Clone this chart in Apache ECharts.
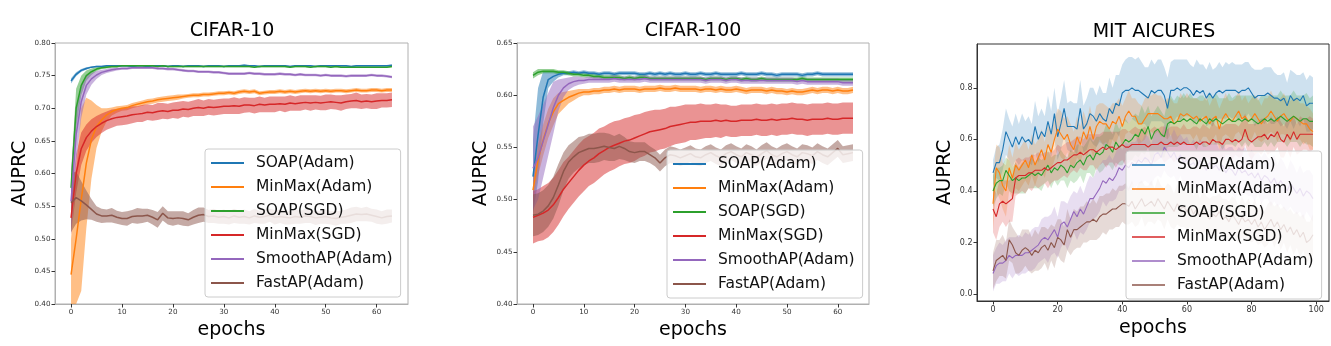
<!DOCTYPE html>
<html>
<head>
<meta charset="utf-8">
<script src="https://cdn.jsdelivr.net/npm/echarts@6/dist/echarts.min.js"></script>
<style>
  html, body { margin: 0; padding: 0; background: #fff; }
  #main { width: 1331px; height: 346px; }
</style>
</head>
<body>
<div id="main"></div>
<script>
// legend names / colours (matplotlib tab10)
const names = ['SOAP(Adam)', 'MinMax(Adam)', 'SOAP(SGD)', 'MinMax(SGD)', 'SmoothAP(Adam)', 'FastAP(Adam)'];
const colors = ['#1f77b4', '#ff7f0e', '#2ca02c', '#d62728', '#9467bd', '#8c564b'];
const titles = ['CIFAR-10', 'CIFAR-100', 'MIT AICURES'];
const c10Ticks = [0, 10, 20, 30, 40, 50, 60];
const mitXTicks = [0, 20, 40, 60, 80, 100];
const mitYTicks = [0, 0.2, 0.4, 0.6, 0.8];

// ---------- CIFAR-10 (mean, std) ----------
const c10_soapAdam = [0.742,0.752,0.758,0.761,0.763,0.764,0.764,0.765,0.765,0.765,
  0.765,0.765,0.764,0.765,0.765,0.764,0.765,0.765,0.765,0.764,
  0.765,0.765,0.764,0.765,0.765,0.765,0.764,0.765,0.765,0.765,
  0.764,0.765,0.765,0.765,0.766,0.765,0.765,0.764,0.765,0.765,
  0.765,0.765,0.765,0.764,0.765,0.765,0.765,0.765,0.764,0.765,
  0.765,0.765,0.765,0.765,0.765,0.764,0.765,0.765,0.765,0.765,
  0.765,0.765,0.765,0.766];
const c10_soapAdam_sd = [0.004,0.003,0.002,0.002,0.001,0.001,0.001,0.001,0.001,0.001,
  0.001,0.001,0.001,0.001,0.001,0.001,0.001,0.001,0.001,0.001,
  0.001,0.001,0.001,0.001,0.001,0.001,0.001,0.001,0.001,0.001,
  0.001,0.001,0.001,0.001,0.001,0.001,0.001,0.001,0.001,0.001,
  0.001,0.001,0.001,0.001,0.001,0.001,0.001,0.001,0.001,0.001,
  0.001,0.001,0.001,0.001,0.001,0.001,0.001,0.001,0.001,0.001,
  0.001,0.001,0.001,0.001];
const c10_minmaxAdam = [0.445,0.500,0.560,0.616,0.652,0.672,0.682,0.690,0.695,0.698,
  0.700,0.701,0.704,0.706,0.708,0.710,0.711,0.713,0.714,0.715,
  0.716,0.717,0.718,0.719,0.720,0.720,0.721,0.721,0.722,0.723,
  0.723,0.724,0.723,0.725,0.726,0.725,0.726,0.723,0.724,0.725,
  0.725,0.726,0.725,0.726,0.725,0.726,0.727,0.726,0.727,0.726,
  0.727,0.726,0.727,0.727,0.726,0.727,0.728,0.727,0.727,0.728,
  0.728,0.727,0.728,0.728];
const c10_minmaxAdam_sd = [0.055,0.100,0.140,0.100,0.060,0.033,0.018,0.010,0.006,0.005,
  0.004,0.004,0.004,0.004,0.004,0.004,0.004,0.004,0.004,0.004,
  0.004,0.004,0.003,0.003,0.003,0.003,0.003,0.003,0.003,0.003,
  0.003,0.003,0.003,0.003,0.003,0.003,0.003,0.003,0.003,0.003,
  0.003,0.003,0.003,0.003,0.003,0.003,0.003,0.003,0.003,0.003,
  0.003,0.003,0.003,0.003,0.003,0.003,0.003,0.003,0.003,0.003,
  0.003,0.003,0.003,0.003];
const c10_soapSgd = [0.578,0.700,0.735,0.750,0.756,0.760,0.762,0.763,0.764,0.764,
  0.765,0.765,0.765,0.765,0.765,0.765,0.765,0.764,0.765,0.764,
  0.764,0.764,0.764,0.764,0.764,0.764,0.764,0.764,0.764,0.764,
  0.764,0.764,0.764,0.764,0.764,0.764,0.763,0.764,0.764,0.764,
  0.764,0.764,0.764,0.763,0.764,0.764,0.764,0.763,0.764,0.764,
  0.764,0.763,0.764,0.763,0.763,0.763,0.763,0.763,0.763,0.763,
  0.763,0.763,0.763,0.764];
const c10_soapSgd_sd = [0.020,0.030,0.015,0.008,0.005,0.003,0.002,0.002,0.002,0.002,
  0.001,0.001,0.001,0.001,0.001,0.001,0.001,0.001,0.001,0.001,
  0.001,0.001,0.001,0.001,0.001,0.001,0.001,0.001,0.001,0.001,
  0.001,0.001,0.001,0.001,0.001,0.001,0.001,0.001,0.001,0.001,
  0.001,0.001,0.001,0.001,0.001,0.001,0.001,0.001,0.001,0.001,
  0.001,0.001,0.001,0.001,0.001,0.001,0.001,0.001,0.001,0.001,
  0.001,0.001,0.001,0.001];
const c10_minmaxSgd = [0.532,0.600,0.638,0.655,0.665,0.672,0.677,0.681,0.684,0.686,
  0.687,0.688,0.690,0.691,0.692,0.694,0.693,0.695,0.696,0.695,
  0.697,0.697,0.699,0.698,0.700,0.701,0.700,0.702,0.701,0.702,
  0.703,0.703,0.704,0.703,0.705,0.705,0.704,0.706,0.705,0.706,
  0.706,0.707,0.706,0.708,0.707,0.708,0.709,0.708,0.709,0.708,
  0.709,0.710,0.709,0.708,0.710,0.711,0.712,0.710,0.711,0.710,
  0.711,0.712,0.712,0.713];
const c10_minmaxSgd_sd = [0.025,0.030,0.025,0.020,0.018,0.016,0.015,0.014,0.014,0.013,
  0.013,0.013,0.013,0.012,0.013,0.012,0.012,0.013,0.012,0.012,
  0.012,0.013,0.012,0.012,0.012,0.013,0.012,0.012,0.012,0.012,
  0.012,0.012,0.013,0.012,0.012,0.011,0.012,0.012,0.011,0.012,
  0.012,0.011,0.012,0.012,0.011,0.012,0.011,0.012,0.011,0.011,
  0.012,0.011,0.011,0.012,0.011,0.011,0.012,0.011,0.011,0.011,
  0.012,0.011,0.011,0.011];
const c10_smoothAp = [0.557,0.660,0.710,0.735,0.745,0.751,0.755,0.757,0.759,0.760,
  0.761,0.761,0.762,0.762,0.762,0.762,0.762,0.761,0.761,0.760,
  0.760,0.759,0.758,0.757,0.757,0.756,0.756,0.756,0.755,0.755,
  0.754,0.753,0.753,0.753,0.753,0.754,0.753,0.753,0.752,0.752,
  0.752,0.753,0.752,0.752,0.751,0.752,0.751,0.751,0.751,0.750,
  0.751,0.750,0.750,0.750,0.749,0.750,0.750,0.750,0.750,0.751,
  0.750,0.750,0.749,0.748];
const c10_smoothAp_sd = [0.050,0.040,0.025,0.014,0.009,0.006,0.004,0.003,0.003,0.002,
  0.002,0.002,0.002,0.002,0.002,0.002,0.002,0.002,0.002,0.002,
  0.002,0.002,0.002,0.002,0.002,0.002,0.002,0.002,0.002,0.002,
  0.002,0.002,0.002,0.002,0.002,0.002,0.002,0.002,0.002,0.002,
  0.002,0.002,0.002,0.002,0.002,0.002,0.002,0.002,0.002,0.002,
  0.002,0.002,0.002,0.002,0.002,0.002,0.002,0.002,0.002,0.002,
  0.002,0.002,0.002,0.002];
const c10_fastAp = [0.555,0.563,0.558,0.552,0.545,0.538,0.535,0.535,0.536,0.533,
  0.531,0.531,0.534,0.535,0.535,0.536,0.533,0.529,0.539,0.532,
  0.531,0.532,0.531,0.529,0.533,0.536,0.537,0.534,0.535,0.533,
  0.534,0.532,0.535,0.533,0.534,0.532,0.535,0.533,0.534,0.536,
  0.533,0.534,0.533,0.532,0.534,0.533,0.535,0.534,0.532,0.533,
  0.534,0.532,0.531,0.533,0.534,0.536,0.538,0.537,0.538,0.536,
  0.534,0.532,0.534,0.535];
const c10_fastAp_sd = [0.045,0.040,0.030,0.022,0.016,0.012,0.011,0.010,0.011,0.010,
  0.010,0.011,0.010,0.012,0.011,0.010,0.011,0.012,0.011,0.010,
  0.011,0.010,0.011,0.010,0.011,0.012,0.011,0.010,0.011,0.010,
  0.011,0.010,0.011,0.010,0.011,0.010,0.011,0.010,0.011,0.010,
  0.011,0.010,0.011,0.010,0.011,0.010,0.011,0.010,0.011,0.010,
  0.011,0.010,0.011,0.010,0.011,0.012,0.011,0.010,0.011,0.010,
  0.011,0.010,0.011,0.010];

// ---------- CIFAR-100 ----------
const c100_soapAdam = [0.522,0.562,0.598,0.615,0.618,0.620,0.621,0.621,0.622,0.621,
  0.622,0.621,0.621,0.620,0.621,0.621,0.620,0.621,0.621,0.621,
  0.621,0.620,0.620,0.621,0.620,0.621,0.620,0.621,0.620,0.620,
  0.621,0.620,0.620,0.621,0.620,0.620,0.621,0.620,0.620,0.620,
  0.620,0.621,0.620,0.620,0.620,0.621,0.620,0.620,0.619,0.620,
  0.620,0.620,0.620,0.619,0.620,0.620,0.621,0.620,0.620,0.620,
  0.620,0.620,0.620,0.620];
const c100_soapAdam_sd = [0.035,0.045,0.025,0.008,0.005,0.003,0.002,0.002,0.002,0.002,
  0.002,0.002,0.002,0.002,0.002,0.002,0.002,0.002,0.002,0.002,
  0.002,0.002,0.002,0.002,0.002,0.002,0.002,0.002,0.002,0.002,
  0.002,0.002,0.002,0.002,0.002,0.002,0.002,0.002,0.002,0.002,
  0.002,0.002,0.002,0.002,0.002,0.002,0.002,0.002,0.002,0.002,
  0.002,0.002,0.002,0.002,0.002,0.002,0.002,0.002,0.002,0.002,
  0.002,0.002,0.002,0.002];
const c100_minmaxAdam = [0.509,0.538,0.557,0.573,0.584,0.592,0.595,0.598,0.600,0.602,
  0.603,0.603,0.604,0.604,0.605,0.605,0.606,0.605,0.606,0.606,
  0.606,0.605,0.606,0.606,0.606,0.607,0.606,0.606,0.607,0.606,
  0.606,0.606,0.606,0.605,0.606,0.606,0.605,0.606,0.605,0.605,
  0.606,0.605,0.604,0.605,0.605,0.605,0.604,0.605,0.604,0.604,
  0.603,0.604,0.603,0.603,0.604,0.605,0.604,0.605,0.605,0.604,
  0.605,0.604,0.604,0.605];
const c100_minmaxAdam_sd = [0.012,0.015,0.015,0.014,0.013,0.010,0.008,0.006,0.005,0.004,
  0.003,0.003,0.003,0.003,0.003,0.003,0.003,0.003,0.003,0.003,
  0.003,0.003,0.003,0.003,0.003,0.003,0.003,0.003,0.003,0.003,
  0.003,0.003,0.003,0.003,0.003,0.003,0.003,0.003,0.003,0.003,
  0.003,0.003,0.003,0.003,0.003,0.003,0.003,0.003,0.003,0.003,
  0.003,0.003,0.003,0.003,0.003,0.003,0.003,0.003,0.003,0.003,
  0.003,0.003,0.003,0.003];
const c100_soapSgd = [0.619,0.622,0.623,0.623,0.623,0.622,0.622,0.621,0.620,0.620,
  0.619,0.619,0.618,0.618,0.617,0.617,0.617,0.617,0.616,0.617,
  0.616,0.617,0.617,0.616,0.616,0.616,0.616,0.616,0.616,0.616,
  0.616,0.616,0.616,0.616,0.615,0.616,0.616,0.616,0.615,0.616,
  0.616,0.615,0.616,0.615,0.615,0.616,0.615,0.615,0.615,0.615,
  0.615,0.615,0.615,0.616,0.615,0.615,0.615,0.615,0.615,0.615,
  0.615,0.615,0.615,0.615];
const c100_soapSgd_sd = [0.003,0.003,0.002,0.002,0.002,0.002,0.002,0.002,0.002,0.002,
  0.002,0.002,0.002,0.002,0.002,0.002,0.002,0.002,0.002,0.002,
  0.002,0.002,0.002,0.002,0.002,0.002,0.002,0.002,0.002,0.002,
  0.002,0.002,0.002,0.002,0.002,0.002,0.002,0.002,0.002,0.002,
  0.002,0.002,0.002,0.002,0.002,0.002,0.002,0.002,0.002,0.002,
  0.002,0.002,0.002,0.002,0.002,0.002,0.002,0.002,0.002,0.002,
  0.002,0.002,0.002,0.002];
const c100_minmaxSgd = [0.483,0.485,0.487,0.490,0.495,0.502,0.510,0.516,0.522,0.528,
  0.533,0.537,0.540,0.544,0.547,0.550,0.552,0.554,0.556,0.557,
  0.559,0.561,0.563,0.565,0.566,0.567,0.568,0.570,0.571,0.572,
  0.573,0.574,0.574,0.575,0.575,0.575,0.576,0.575,0.576,0.575,
  0.575,0.576,0.576,0.576,0.577,0.576,0.576,0.577,0.576,0.577,
  0.577,0.578,0.577,0.577,0.576,0.577,0.577,0.577,0.578,0.577,
  0.577,0.578,0.578,0.578];
const c100_minmaxSgd_sd = [0.025,0.025,0.026,0.026,0.026,0.026,0.026,0.025,0.025,0.025,
  0.025,0.024,0.024,0.024,0.023,0.023,0.023,0.022,0.022,0.022,
  0.022,0.021,0.021,0.020,0.020,0.019,0.019,0.019,0.018,0.018,
  0.018,0.017,0.017,0.017,0.016,0.016,0.016,0.016,0.015,0.015,
  0.015,0.015,0.015,0.015,0.015,0.015,0.015,0.015,0.015,0.015,
  0.015,0.015,0.015,0.015,0.015,0.015,0.015,0.015,0.015,0.015,
  0.015,0.015,0.015,0.015];
const c100_smoothAp = [0.530,0.540,0.556,0.572,0.588,0.600,0.607,0.611,0.613,0.614,
  0.614,0.615,0.615,0.615,0.615,0.615,0.616,0.615,0.615,0.615,
  0.615,0.615,0.616,0.615,0.615,0.615,0.615,0.615,0.615,0.615,
  0.615,0.615,0.615,0.615,0.614,0.615,0.615,0.615,0.614,0.615,
  0.615,0.614,0.614,0.614,0.614,0.614,0.614,0.614,0.614,0.614,
  0.614,0.614,0.613,0.614,0.613,0.613,0.613,0.613,0.613,0.613,
  0.613,0.612,0.612,0.612];
const c100_smoothAp_sd = [0.040,0.040,0.035,0.030,0.025,0.015,0.009,0.006,0.005,0.004,
  0.003,0.003,0.003,0.003,0.003,0.003,0.003,0.003,0.003,0.003,
  0.003,0.003,0.003,0.003,0.003,0.003,0.003,0.003,0.003,0.003,
  0.003,0.003,0.003,0.003,0.003,0.003,0.003,0.003,0.003,0.003,
  0.003,0.003,0.003,0.003,0.003,0.003,0.003,0.003,0.003,0.003,
  0.003,0.003,0.003,0.003,0.003,0.003,0.003,0.003,0.003,0.003,
  0.003,0.003,0.003,0.003];
const c100_fastAp = [0.485,0.486,0.489,0.494,0.502,0.514,0.527,0.536,0.541,0.545,
  0.547,0.549,0.549,0.550,0.551,0.550,0.549,0.551,0.549,0.546,
  0.545,0.546,0.546,0.543,0.540,0.535,0.540,0.543,0.542,0.540,
  0.542,0.544,0.541,0.540,0.543,0.545,0.542,0.540,0.544,0.546,
  0.543,0.541,0.545,0.543,0.540,0.544,0.547,0.543,0.541,0.544,
  0.546,0.543,0.541,0.545,0.544,0.542,0.546,0.543,0.541,0.545,
  0.549,0.543,0.544,0.545];
const c100_fastAp_sd = [0.020,0.020,0.020,0.020,0.020,0.020,0.018,0.016,0.015,0.015,
  0.014,0.014,0.014,0.014,0.013,0.013,0.012,0.012,0.011,0.010,
  0.010,0.009,0.009,0.008,0.008,0.008,0.008,0.008,0.008,0.008,
  0.008,0.008,0.008,0.008,0.008,0.008,0.008,0.008,0.008,0.008,
  0.008,0.008,0.008,0.008,0.008,0.008,0.008,0.008,0.008,0.008,
  0.008,0.008,0.008,0.008,0.008,0.008,0.008,0.008,0.008,0.008,
  0.008,0.008,0.008,0.008];

// ---------- MIT AICURES ----------
const mit_soapAdam = [0.47,0.51,0.51,0.56,0.63,0.60,0.57,0.61,0.58,0.61,
  0.59,0.60,0.58,0.65,0.60,0.63,0.61,0.67,0.62,0.70,
  0.61,0.66,0.72,0.65,0.65,0.65,0.64,0.72,0.64,0.66,
  0.70,0.69,0.67,0.70,0.68,0.67,0.72,0.70,0.74,0.73,
  0.78,0.79,0.79,0.80,0.79,0.79,0.78,0.77,0.76,0.79,
  0.78,0.79,0.79,0.77,0.72,0.79,0.79,0.80,0.79,0.80,
  0.80,0.79,0.77,0.79,0.78,0.79,0.76,0.78,0.76,0.78,
  0.79,0.78,0.79,0.79,0.79,0.79,0.78,0.79,0.79,0.80,
  0.78,0.76,0.77,0.77,0.77,0.78,0.77,0.76,0.76,0.75,
  0.76,0.73,0.77,0.75,0.76,0.75,0.77,0.73,0.74,0.74];
const mit_soapAdam_sd = [0.05,0.06,0.07,0.08,0.09,0.08,0.08,0.09,0.08,0.09,
  0.08,0.09,0.08,0.10,0.09,0.09,0.08,0.10,0.09,0.10,
  0.09,0.10,0.11,0.09,0.10,0.09,0.10,0.11,0.09,0.10,
  0.10,0.11,0.10,0.11,0.10,0.11,0.12,0.10,0.11,0.12,
  0.11,0.12,0.13,0.12,0.12,0.13,0.12,0.11,0.12,0.12,
  0.11,0.12,0.12,0.11,0.12,0.11,0.12,0.11,0.12,0.11,
  0.11,0.10,0.11,0.12,0.11,0.10,0.11,0.12,0.11,0.10,
  0.11,0.10,0.11,0.10,0.11,0.10,0.11,0.10,0.11,0.10,
  0.10,0.11,0.10,0.10,0.11,0.10,0.11,0.10,0.09,0.10,
  0.10,0.09,0.10,0.11,0.09,0.10,0.09,0.10,0.11,0.10];
const mit_minmaxAdam = [0.35,0.49,0.47,0.42,0.40,0.49,0.45,0.50,0.48,0.50,
  0.52,0.49,0.54,0.50,0.53,0.56,0.52,0.58,0.55,0.60,
  0.64,0.62,0.60,0.62,0.58,0.56,0.61,0.58,0.63,0.60,
  0.65,0.60,0.65,0.67,0.66,0.66,0.64,0.67,0.66,0.69,
  0.65,0.69,0.71,0.69,0.69,0.66,0.66,0.68,0.70,0.70,
  0.70,0.70,0.69,0.68,0.68,0.69,0.66,0.67,0.70,0.69,
  0.70,0.69,0.68,0.69,0.67,0.68,0.69,0.66,0.68,0.69,
  0.64,0.68,0.70,0.68,0.67,0.69,0.71,0.68,0.69,0.67,
  0.68,0.70,0.68,0.66,0.68,0.69,0.71,0.69,0.67,0.69,
  0.70,0.68,0.67,0.69,0.68,0.67,0.66,0.66,0.64,0.63];
const mit_minmaxAdam_sd = [0.10,0.09,0.10,0.09,0.10,0.09,0.08,0.09,0.08,0.08,
  0.08,0.07,0.08,0.08,0.07,0.08,0.07,0.08,0.07,0.08,
  0.08,0.09,0.08,0.07,0.08,0.07,0.08,0.07,0.08,0.07,
  0.08,0.07,0.08,0.07,0.08,0.07,0.08,0.07,0.08,0.07,
  0.08,0.07,0.08,0.07,0.07,0.08,0.07,0.08,0.07,0.07,
  0.08,0.07,0.08,0.07,0.08,0.07,0.08,0.07,0.08,0.07,
  0.08,0.07,0.08,0.07,0.08,0.07,0.08,0.07,0.08,0.07,
  0.08,0.07,0.08,0.07,0.08,0.07,0.08,0.07,0.08,0.07,
  0.08,0.07,0.08,0.07,0.08,0.07,0.08,0.07,0.08,0.07,
  0.08,0.07,0.08,0.07,0.08,0.07,0.08,0.07,0.08,0.07];
const mit_soapSgd = [0.40,0.43,0.44,0.44,0.48,0.46,0.44,0.45,0.44,0.45,
  0.45,0.46,0.47,0.46,0.47,0.46,0.48,0.50,0.47,0.49,
  0.48,0.50,0.49,0.47,0.50,0.49,0.51,0.52,0.50,0.53,
  0.54,0.52,0.55,0.54,0.55,0.58,0.57,0.55,0.59,0.57,
  0.58,0.60,0.59,0.60,0.62,0.61,0.64,0.62,0.65,0.60,
  0.63,0.64,0.62,0.61,0.66,0.67,0.66,0.67,0.67,0.68,
  0.67,0.68,0.67,0.66,0.68,0.67,0.66,0.68,0.67,0.68,
  0.67,0.66,0.67,0.68,0.67,0.67,0.68,0.67,0.68,0.67,
  0.68,0.67,0.66,0.67,0.68,0.67,0.68,0.67,0.68,0.69,
  0.68,0.67,0.68,0.69,0.68,0.67,0.68,0.68,0.67,0.67];
const mit_soapSgd_sd = [0.06,0.06,0.05,0.06,0.05,0.06,0.05,0.06,0.05,0.06,
  0.06,0.05,0.06,0.05,0.06,0.06,0.05,0.06,0.06,0.05,
  0.06,0.06,0.05,0.06,0.06,0.06,0.07,0.06,0.07,0.06,
  0.07,0.07,0.06,0.07,0.07,0.08,0.07,0.07,0.08,0.07,
  0.08,0.08,0.07,0.08,0.08,0.08,0.09,0.08,0.08,0.09,
  0.08,0.09,0.09,0.08,0.09,0.10,0.09,0.10,0.09,0.10,
  0.09,0.10,0.09,0.10,0.09,0.10,0.09,0.10,0.09,0.10,
  0.09,0.10,0.09,0.10,0.09,0.10,0.09,0.10,0.09,0.10,
  0.09,0.10,0.09,0.10,0.09,0.10,0.09,0.10,0.09,0.10,
  0.09,0.10,0.09,0.10,0.09,0.10,0.09,0.10,0.09,0.10];
const mit_minmaxSgd = [0.33,0.30,0.35,0.36,0.35,0.36,0.37,0.45,0.46,0.46,
  0.46,0.47,0.47,0.48,0.48,0.48,0.49,0.48,0.49,0.50,
  0.51,0.51,0.52,0.52,0.53,0.54,0.54,0.55,0.54,0.55,
  0.56,0.56,0.55,0.56,0.57,0.56,0.57,0.57,0.56,0.57,
  0.58,0.57,0.57,0.58,0.58,0.58,0.58,0.58,0.57,0.58,
  0.58,0.58,0.59,0.58,0.58,0.59,0.58,0.59,0.58,0.59,
  0.58,0.58,0.58,0.59,0.58,0.59,0.59,0.58,0.60,0.59,
  0.59,0.58,0.60,0.60,0.59,0.60,0.59,0.60,0.64,0.60,
  0.59,0.60,0.61,0.61,0.62,0.60,0.62,0.61,0.63,0.60,
  0.59,0.62,0.60,0.63,0.60,0.62,0.62,0.62,0.62,0.62];
const mit_minmaxSgd_sd = [0.09,0.09,0.09,0.08,0.09,0.08,0.09,0.07,0.07,0.06,
  0.07,0.06,0.07,0.06,0.07,0.06,0.06,0.07,0.06,0.06,
  0.07,0.06,0.06,0.07,0.06,0.06,0.07,0.06,0.06,0.07,
  0.06,0.06,0.07,0.06,0.06,0.07,0.06,0.06,0.07,0.06,
  0.06,0.07,0.06,0.06,0.07,0.06,0.06,0.07,0.06,0.06,
  0.07,0.06,0.06,0.07,0.06,0.06,0.07,0.06,0.06,0.07,
  0.06,0.06,0.07,0.06,0.06,0.07,0.06,0.06,0.07,0.06,
  0.06,0.07,0.06,0.06,0.07,0.06,0.06,0.07,0.06,0.06,
  0.07,0.06,0.06,0.07,0.06,0.06,0.07,0.06,0.06,0.07,
  0.06,0.06,0.07,0.06,0.06,0.07,0.06,0.06,0.07,0.06];
const mit_smoothAp = [0.08,0.11,0.12,0.12,0.13,0.15,0.14,0.15,0.15,0.15,
  0.16,0.16,0.17,0.18,0.19,0.21,0.22,0.21,0.23,0.25,
  0.22,0.27,0.28,0.26,0.29,0.32,0.30,0.33,0.31,0.34,
  0.37,0.37,0.39,0.41,0.44,0.43,0.45,0.44,0.46,0.49,
  0.48,0.50,0.49,0.51,0.50,0.52,0.51,0.53,0.52,0.50,
  0.54,0.55,0.53,0.57,0.55,0.53,0.55,0.52,0.54,0.51,
  0.52,0.50,0.51,0.49,0.52,0.50,0.48,0.51,0.49,0.50,
  0.48,0.50,0.47,0.49,0.48,0.46,0.49,0.47,0.48,0.46,
  0.47,0.45,0.47,0.44,0.46,0.45,0.43,0.45,0.42,0.44,
  0.42,0.40,0.43,0.41,0.39,0.41,0.38,0.40,0.39,0.37];
const mit_smoothAp_sd = [0.07,0.07,0.08,0.07,0.08,0.07,0.08,0.07,0.08,0.07,
  0.08,0.07,0.08,0.08,0.07,0.08,0.08,0.09,0.08,0.09,
  0.08,0.09,0.08,0.09,0.09,0.08,0.09,0.09,0.08,0.09,
  0.09,0.08,0.09,0.09,0.08,0.09,0.09,0.08,0.09,0.09,
  0.08,0.09,0.09,0.08,0.09,0.09,0.08,0.09,0.09,0.08,
  0.09,0.09,0.08,0.09,0.09,0.08,0.09,0.09,0.08,0.09,
  0.09,0.08,0.09,0.09,0.08,0.09,0.09,0.08,0.09,0.09,
  0.08,0.09,0.09,0.08,0.09,0.09,0.08,0.09,0.09,0.08,
  0.09,0.09,0.08,0.09,0.09,0.08,0.09,0.09,0.08,0.09,
  0.09,0.08,0.09,0.09,0.08,0.09,0.09,0.08,0.09,0.09];
const mit_fastAp = [0.09,0.13,0.14,0.15,0.13,0.21,0.19,0.16,0.15,0.17,
  0.18,0.17,0.15,0.17,0.16,0.18,0.19,0.17,0.20,0.18,
  0.22,0.21,0.19,0.25,0.22,0.25,0.25,0.26,0.27,0.28,
  0.28,0.29,0.28,0.30,0.31,0.31,0.32,0.33,0.33,0.34,
  0.35,0.35,0.34,0.36,0.33,0.35,0.37,0.34,0.35,0.36,
  0.34,0.37,0.35,0.33,0.36,0.34,0.32,0.35,0.33,0.34,
  0.32,0.34,0.31,0.33,0.30,0.32,0.31,0.29,0.31,0.30,
  0.32,0.29,0.30,0.28,0.31,0.29,0.27,0.30,0.28,0.29,
  0.27,0.29,0.26,0.28,0.25,0.27,0.29,0.26,0.28,0.25,
  0.27,0.24,0.26,0.23,0.25,0.22,0.24,0.20,0.21,0.23];
const mit_fastAp_sd = [0.07,0.08,0.07,0.08,0.07,0.08,0.07,0.08,0.07,0.08,
  0.07,0.08,0.07,0.08,0.07,0.08,0.07,0.08,0.07,0.08,
  0.07,0.08,0.07,0.08,0.07,0.08,0.07,0.08,0.07,0.08,
  0.07,0.08,0.07,0.08,0.07,0.08,0.07,0.08,0.07,0.08,
  0.07,0.08,0.07,0.08,0.07,0.08,0.07,0.08,0.07,0.08,
  0.07,0.08,0.07,0.08,0.07,0.08,0.07,0.08,0.07,0.08,
  0.07,0.08,0.07,0.08,0.07,0.08,0.07,0.08,0.07,0.08,
  0.07,0.08,0.07,0.08,0.07,0.08,0.07,0.08,0.07,0.08,
  0.07,0.08,0.07,0.08,0.07,0.08,0.07,0.08,0.07,0.08,
  0.07,0.08,0.07,0.08,0.07,0.08,0.07,0.08,0.07,0.08];

const panels = [
  { means: [c10_soapAdam, c10_minmaxAdam, c10_soapSgd, c10_minmaxSgd, c10_smoothAp, c10_fastAp],
    sds: [c10_soapAdam_sd, c10_minmaxAdam_sd, c10_soapSgd_sd, c10_minmaxSgd_sd, c10_smoothAp_sd, c10_fastAp_sd],
    grid: { left: 55, top: 43, width: 353, height: 261 },
    x: [-3.15, 66.15], xt: c10Ticks, y: [0.40, 0.80], yStep: 0.05, yDigits: 2,
    alpha: 0.5, lw: 1.5, frame: '#b0b0b0', tickFont: 7.2, yGap: 25, xGap: 12,
    legend: { left: 205, top: 149 }, title: [232, 31.5] },
  { means: [c100_soapAdam, c100_minmaxAdam, c100_soapSgd, c100_minmaxSgd, c100_smoothAp, c100_fastAp],
    sds: [c100_soapAdam_sd, c100_minmaxAdam_sd, c100_soapSgd_sd, c100_minmaxSgd_sd, c100_smoothAp_sd, c100_fastAp_sd],
    grid: { left: 517, top: 43, width: 352, height: 261 },
    x: [-3.15, 66.15], xt: c10Ticks, y: [0.40, 0.65], yStep: 0.05, yDigits: 2,
    alpha: 0.5, lw: 1.5, frame: '#b0b0b0', tickFont: 7.2, yGap: 26, xGap: 12,
    legend: { left: 667, top: 150 }, title: [693, 31.5] },
  { means: [mit_soapAdam, mit_minmaxAdam, mit_soapSgd, mit_minmaxSgd, mit_smoothAp, mit_fastAp],
    sds: [mit_soapAdam_sd, mit_minmaxAdam_sd, mit_soapSgd_sd, mit_minmaxSgd_sd, mit_smoothAp_sd, mit_fastAp_sd],
    grid: { left: 977, top: 44, width: 352, height: 257 },
    x: [-4.95, 103.95], xt: mitXTicks, y: [-0.027, 0.97], yTicks: mitYTicks, yDigits: 1,
    alpha: 0.22, lw: 1.1, frame: '#333333', tickFont: 8, yGap: 22, xGap: 15,
    legend: { left: 1126, top: 151 }, title: [1154, 32.5] }
];

const FONT = 'DejaVu Sans';
const grids = [], xAxes = [], yAxes = [], series = [], legends = [], graphics = [];

function bandSeries(p, mean, sd, color, alpha) {
  return {
    type: 'custom', xAxisIndex: p, yAxisIndex: p, clip: true, silent: true, z: 2,
    data: [[0, mean[0]]],
    renderItem: function (params, api) {
      const pts = [];
      for (let i = 0; i < mean.length; i++) pts.push(api.coord([i, mean[i] + sd[i]]));
      for (let i = mean.length - 1; i >= 0; i--) pts.push(api.coord([i, mean[i] - sd[i]]));
      return { type: 'polygon', shape: { points: pts }, style: { fill: color, opacity: alpha } };
    }
  };
}

panels.forEach(function (pn, p) {
  grids.push(Object.assign({ show: true, borderColor: pn.frame, borderWidth: 1, backgroundColor: '#fff' }, pn.grid));
  xAxes.push({
    type: 'value', gridIndex: p, min: pn.x[0], max: pn.x[1],
    name: 'epochs', nameLocation: 'middle', nameGap: pn.xGap,
    nameTextStyle: { fontSize: 19, fontFamily: FONT, color: '#000' },
    axisLine: { show: true, onZero: false, lineStyle: { color: pn.frame } },
    axisTick: { show: true, length: 3.5, customValues: pn.xt, lineStyle: { color: '#333' } },
    axisLabel: { customValues: pn.xt, fontSize: pn.tickFont, fontFamily: FONT, color: '#333', margin: 5 },
    splitLine: { show: false }
  });
  const yAx = {
    type: 'value', gridIndex: p, min: pn.y[0], max: pn.y[1],
    name: 'AUPRC', nameLocation: 'middle', nameGap: pn.yGap,
    nameTextStyle: { fontSize: 19.5, fontFamily: FONT, color: '#000' },
    axisLine: { show: true, onZero: false, lineStyle: { color: pn.frame } },
    axisTick: { show: true, length: 3.5, lineStyle: { color: '#333' } },
    axisLabel: { fontSize: pn.tickFont, fontFamily: FONT, color: '#333', margin: 4.5,
      formatter: function (v) { return v.toFixed(pn.yDigits); } },
    splitLine: { show: false }
  };
  if (pn.yTicks) {
    yAx.axisTick.customValues = pn.yTicks;
    yAx.axisLabel.customValues = pn.yTicks;
  } else {
    yAx.interval = pn.yStep;
  }
  yAxes.push(yAx);

  for (let k = 0; k < 6; k++) {
    series.push(bandSeries(p, pn.means[k], pn.sds[k], colors[k], pn.alpha));
    series.push({
      type: 'line', name: names[k], xAxisIndex: p, yAxisIndex: p, z: 3,
      data: pn.means[k].map(function (v, i) { return [i, v]; }),
      symbol: 'none', showSymbol: false, color: colors[k],
      lineStyle: { width: pn.lw, color: colors[k] }
    });
  }

  legends.push({
    orient: 'vertical', left: pn.legend.left, top: pn.legend.top, data: names,
    icon: 'rect', itemWidth: 33, itemHeight: p === 2 ? 1.5 : 2, itemGap: 8,
    padding: [6, 8, 6, 6], backgroundColor: 'rgba(255,255,255,0.8)',
    borderColor: '#cccccc', borderWidth: 1, borderRadius: 3, selectedMode: false,
    textStyle: { fontSize: 15.5, fontFamily: FONT, color: '#111', lineHeight: 16, padding: [0, 0, 0, 7] }
  });

  graphics.push({
    type: 'text', x: pn.title[0], y: pn.title[1],
    style: { text: titles[p], fontSize: 19, fontFamily: FONT, fill: '#000', align: 'center', verticalAlign: 'middle' }
  });
});

const chart = echarts.init(document.getElementById('main'), null, { renderer: 'canvas' });
chart.setOption({
  animation: false,
  backgroundColor: '#fff',
  grid: grids,
  xAxis: xAxes,
  yAxis: yAxes,
  legend: legends,
  graphic: graphics,
  series: series
});
</script>
</body>
</html>
